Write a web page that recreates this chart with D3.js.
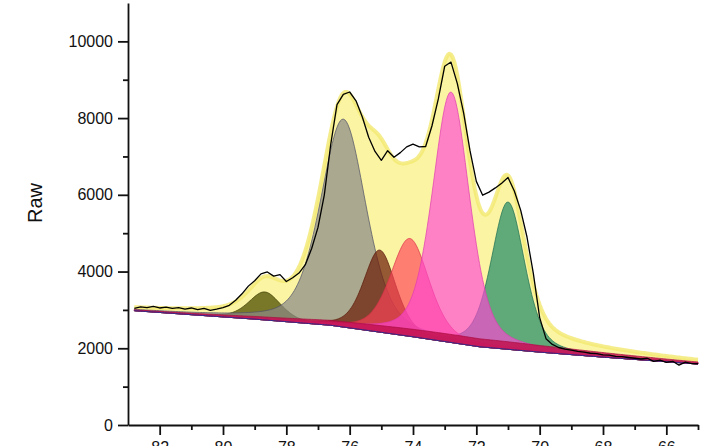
<!DOCTYPE html>
<html>
<head>
<meta charset="utf-8">
<script src="https://cdn.jsdelivr.net/npm/d3@7"></script>
<style>
  body { margin: 0; background: #fff; }
  svg { display: block; font-family: 'Liberation Sans', Arial, Helvetica, sans-serif; }
</style>
</head>
<body>
<svg id="spectrum"></svg>
<script>
// raw spectrum: first energy, step, counts
const rawStart = 82.8;
const rawStep = 0.2;
const rawCounts = [
    3040, 3080, 3060, 3090, 3050, 3070, 3040, 3060, 3020, 3050,
    3010, 3040, 2990, 3020, 3060, 3120, 3250, 3420, 3620, 3760,
    3940, 3990, 3880, 3920, 3740, 3840, 3960, 4180, 4600, 5150,
    6000, 7300, 8350, 8620, 8680, 8450, 8030, 7500, 7130, 6900,
    7150, 6980, 7100, 7250, 7320, 7250, 7260, 7800, 8500, 9350,
    9460, 8900, 8130, 7150, 6350, 5990, 6070, 6180, 6300, 6450,
    6100, 5600, 4900, 3950, 2800, 2250, 2100, 2020, 1980, 1950,
    1920, 1900, 1870, 1860, 1830, 1820, 1790, 1780, 1760, 1740,
    1720, 1740, 1660, 1690, 1630, 1660, 1560, 1640, 1600, 1600
];

// background (knots of the fitted baseline)
const baseEnergy = [82.8, 79.0, 76.6, 74.0, 71.9, 70.0, 68.0, 65.0];
const baseCounts = [2980, 2760, 2600, 2300, 2040, 1900, 1770, 1590];

// fitted components: centre (eV), height above baseline, FWHM (eV)
// order: olive, grey, brown, red, pink, green, broad crimson
const peakCenters = [78.68, 76.2, 75.05, 74.1, 72.8, 71.0, 72.5];
const peakHeights = [730, 5420, 2140, 2550, 6530, 3840, 210];
const peakFwhm = [1.2, 1.7, 1.2, 1.45, 1.38, 1.25, 10];
const lorentzFraction = 0.4;

const yMajorTicks = [0, 2000, 4000, 6000, 8000, 10000];
const yMinorTicks = [1000, 3000, 5000, 7000, 9000];
const xMajorTicks = [82, 80, 78, 76, 74, 72, 70, 68, 66];
const xMinorTicks = [81, 79, 77, 75, 73, 71, 69, 67, 65];

// fill, outline, opacity for each component (same order as above)
const peakStyles = [
    {fill: '#4e4e00', stroke: '#3c3c00', opacity: 0.75},
    {fill: '#8a8a86', stroke: '#4e4e66', opacity: 0.72},
    {fill: '#6e1e0a', stroke: '#5a1808', opacity: 0.72},
    {fill: '#ff4258', stroke: '#d83048', opacity: 0.66},
    {fill: '#ff45d6', stroke: '#e03cb0', opacity: 0.66},
    {fill: '#1e8a66', stroke: '#1c6e52', opacity: 0.7},
    {fill: '#c0104a', stroke: '#a80c40', opacity: 0.82}
];
// drawing order (index into the arrays above)
const drawOrder = [0, 1, 2, 5, 3, 4, 6];

class SpectrumPlot {

    constructor(_config) {
        this.config = {
            parentElement: _config.parentElement,
            containerWidth: _config.containerWidth || 714,
            containerHeight: _config.containerHeight || 446,
            margin: {top: 3, right: 16, bottom: 21, left: 128}
        }
        this.initVis();
    }

    initVis() {
        let vis = this;

        vis.width = vis.config.containerWidth - vis.config.margin.left - vis.config.margin.right;
        vis.height = vis.config.containerHeight - vis.config.margin.top - vis.config.margin.bottom;

        vis.xScale = d3.scaleLinear()
            .domain([83, 65])
            .range([0, vis.width]);

        vis.yScale = d3.scaleLinear()
            .domain([0, 11000])
            .range([vis.height, 0]);

        vis.baseline = d3.scaleLinear()
            .domain(baseEnergy)
            .range(baseCounts);

        vis.svg = d3.select(vis.config.parentElement)
            .attr('width', vis.config.containerWidth)
            .attr('height', vis.config.containerHeight);

        vis.chart = vis.svg.append('g')
            .attr('transform', `translate(${vis.config.margin.left},${vis.config.margin.top})`);

        vis.marks = vis.chart.append('g').attr('class', 'marks');

        vis.xAxisG = vis.chart.append('g')
            .attr('class', 'x-axis')
            .attr('transform', `translate(0,${vis.height})`);
        vis.xMinorG = vis.chart.append('g')
            .attr('transform', `translate(0,${vis.height})`);
        vis.yAxisG = vis.chart.append('g').attr('class', 'y-axis');
        vis.yMinorG = vis.chart.append('g');

        vis.svg.append('text')
            .attr('transform', `translate(42,203) rotate(-90)`)
            .style('text-anchor', 'middle')
            .style('font-size', '20px')
            .attr('fill', '#111')
            .text('Raw');

        vis.updateVis();
    }

    pseudoVoigt(e, i) {
        const t = (e - peakCenters[i]) / peakFwhm[i];
        const lor = 1 / (1 + 4 * t * t);
        const gau = Math.exp(-4 * Math.LN2 * t * t);
        return peakHeights[i] * (lorentzFraction * lor + (1 - lorentzFraction) * gau);
    }

    updateVis() {
        let vis = this;

        vis.raw = rawCounts.map((c, i) => ({e: +(rawStart - i * rawStep).toFixed(2), v: c}));

        const eMin = vis.raw[vis.raw.length - 1].e;
        vis.grid = d3.range(0, Math.round((rawStart - eMin) / 0.05) + 1)
            .map(i => +(rawStart - i * 0.05).toFixed(2));

        vis.components = peakCenters.map((c, i) =>
            vis.grid.map(e => ({e: e, base: vis.baseline(e), v: vis.pseudoVoigt(e, i)})));

        vis.envelope = vis.grid.map((e, k) => ({
            e: e,
            base: vis.baseline(e),
            v: d3.sum(vis.components, comp => comp[k].v)
        }));

        vis.renderVis();
    }

    renderVis() {
        let vis = this;

        const area = d3.area()
            .x(d => vis.xScale(d.e))
            .y0(d => vis.yScale(d.base))
            .y1(d => vis.yScale(d.base + d.v));

        const top = d3.line()
            .x(d => vis.xScale(d.e))
            .y(d => vis.yScale(d.base + d.v));

        // cumulative fit
        vis.marks.append('path')
            .datum(vis.envelope)
            .attr('d', area)
            .attr('fill', '#fbf5a3');
        vis.marks.append('path')
            .datum(vis.envelope)
            .attr('d', top)
            .attr('fill', 'none')
            .attr('stroke', '#f3e870')
            .attr('stroke-width', 4)
            .attr('stroke-opacity', 0.8)
            .attr('stroke-linejoin', 'round');

        // fitted peaks
        vis.marks.selectAll('.peak')
            .data(drawOrder)
            .join('path')
            .attr('class', 'peak')
            .attr('d', i => area(vis.components[i]))
            .attr('fill', i => peakStyles[i].fill)
            .attr('fill-opacity', i => peakStyles[i].opacity)
            .attr('stroke', i => peakStyles[i].stroke)
            .attr('stroke-width', 1)
            .attr('stroke-opacity', 0.7);

        // baseline
        vis.marks.append('path')
            .datum(vis.grid.map(e => ({e: e, base: vis.baseline(e), v: 0})))
            .attr('d', top)
            .attr('fill', 'none')
            .attr('stroke', '#2c2c8c')
            .attr('stroke-width', 1);

        // raw data
        vis.marks.append('path')
            .datum(vis.raw)
            .attr('d', d3.line().x(d => vis.xScale(d.e)).y(d => vis.yScale(d.v)))
            .attr('fill', 'none')
            .attr('stroke', '#000')
            .attr('stroke-width', 1.3)
            .attr('stroke-linejoin', 'round');

        // axes
        vis.xAxisG
            .call(d3.axisBottom(vis.xScale).tickValues(xMajorTicks).tickSize(10).tickSizeOuter(0).tickPadding(7).tickFormat(d3.format('d')))
            .style('font-size', '16px');
        vis.xMinorG
            .call(d3.axisBottom(vis.xScale).tickValues(xMinorTicks).tickSize(5).tickFormat(''))
            .call(g => g.select('.domain').remove());

        vis.yAxisG
            .call(d3.axisLeft(vis.yScale).tickValues(yMajorTicks).tickSize(10).tickSizeOuter(0).tickPadding(5).tickFormat(d3.format('d')))
            .style('font-size', '16px');
        vis.yMinorG
            .call(d3.axisLeft(vis.yScale).tickValues(yMinorTicks).tickSize(5).tickFormat(''))
            .call(g => g.select('.domain').remove());

        vis.chart.selectAll('.domain, .tick line')
            .attr('stroke', '#111')
            .attr('stroke-width', 1.8);
        vis.chart.selectAll('.tick text')
            .attr('fill', '#111');
        vis.chart.selectAll('.x-axis, .y-axis').attr('font-family', null);
    }
}

new SpectrumPlot({parentElement: '#spectrum'});
</script>
</body>
</html>
